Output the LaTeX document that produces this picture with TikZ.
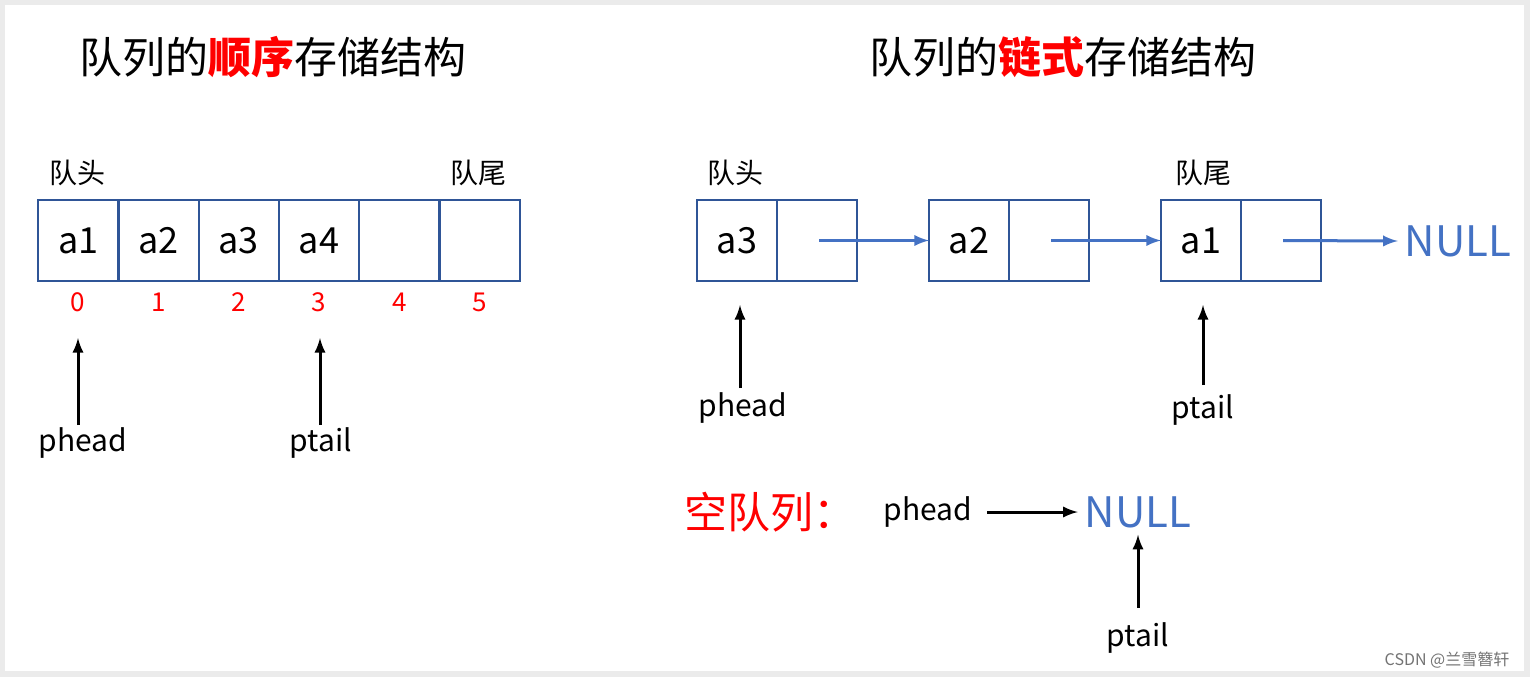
\documentclass[tikz,border=0pt]{standalone}
\usepackage{fontspec}
\setmainfont{Noto Sans CJK SC}
\usetikzlibrary{positioning}
\definecolor{cellblue}{HTML}{2F5597}
\definecolor{ptrblue}{HTML}{4472C4}
\definecolor{redmark}{HTML}{FF0000}
\begin{document}
\begin{tikzpicture}[x=0.5pt,y=-0.5pt,
    cell/.style={draw=cellblue,line width=1pt,outer sep=0pt,minimum width=40pt,minimum height=40.5pt,inner sep=0pt,font=\fontsize{18}{18}\selectfont},
    idx/.style={text=redmark,font=\fontsize{13}{13}\selectfont},
    tag/.style={font=\fontsize{14}{14}\selectfont},
    lbl/.style={font=\fontsize{15}{15}\selectfont},
    title/.style={font=\fontsize{21.5}{21.5}\selectfont},
    null/.style={text=ptrblue,font=\fontsize{21}{21}\selectfont},
    ptr/.style={-latex,line width=1.5pt},
    link/.style={-latex,line width=1.5pt,draw=ptrblue}]
  % frame
  \fill[black!8] (0,0) rectangle (1530,677);
  \fill[white] (5,5) rectangle (1524,671);
  \useasboundingbox (0,0) rectangle (1530,677);
  % titles
  \node[title] (t1) at (273,57) {队列的\textcolor{redmark}{\textbf{顺序}}存储结构};
  \node[title] (t2) at (1063,57) {队列的\textcolor{redmark}{\textbf{链式}}存储结构};
  % sequential queue
  \foreach \i/\v in {0/a1,1/a2,2/a3,3/a4,4/{},5/{}} {
    \node[cell] (s\i) at (78.2+80.3*\i,240.5) {\v};
    \node[idx] (n\i) at (78.2+80.3*\i,302) {\i};
  }
  \node[tag] (sh) at (77,173) {队头};
  \node[tag] (st) at (478,173) {队尾};
  \node[lbl] (sp) at (83,443) {phead};
  \node[lbl] (sq) at (321,443) {ptail};
  \coordinate (ah) at (78,338);
  \coordinate (at) at (320,338);
  \draw[ptr] (78,425) -- (ah);
  \draw[ptr] (320,425) -- (at);
  % linked queue
  \foreach \k/\x/\v in {1/737/a3,2/969/a2,3/1201/a1} {
    \node[cell] (d\k) at (\x,240.5) {\v};
    \node[cell,right=0pt of d\k] (p\k) {};
    \coordinate (c\k) at ([xshift=1pt]p\k.center);
  }
  \node[null] (nl) at (1458,241) {NULL};
  \draw[link] (c1) -- (d2.west);
  \draw[link] (c2) -- (d3.west);
  \draw[link] (c3) -- (nl.west);
  \node[tag] (lh) at (735,173) {队头};
  \node[tag] (lt) at (1203,173) {队尾};
  \node[lbl] (lp) at (743,408) {phead};
  \node[lbl] (lq) at (1203,410) {ptail};
  \draw[ptr] (740,388) -- (740,305);
  \draw[ptr] (1203,385) -- (1203,305);
  % empty queue
  \node[title,text=redmark] (ek) at (770,512) {空队列：};
  \node[lbl] (ep) at (928,512) {phead};
  \node[null] (en) at (1138,512) {NULL};
  \node[lbl] (eq) at (1138,638) {ptail};
  \draw[ptr] (ep.east) ++(8,0) -- (en.west);
  \draw[ptr] (eq.north) ++(0,-8) -- (en.south);
  % watermark
  \node[text=black!55,font=\fontsize{8}{8}\selectfont] (wm) at (1447,660) {CSDN @兰雪簪轩};
\end{tikzpicture}
\end{document}
